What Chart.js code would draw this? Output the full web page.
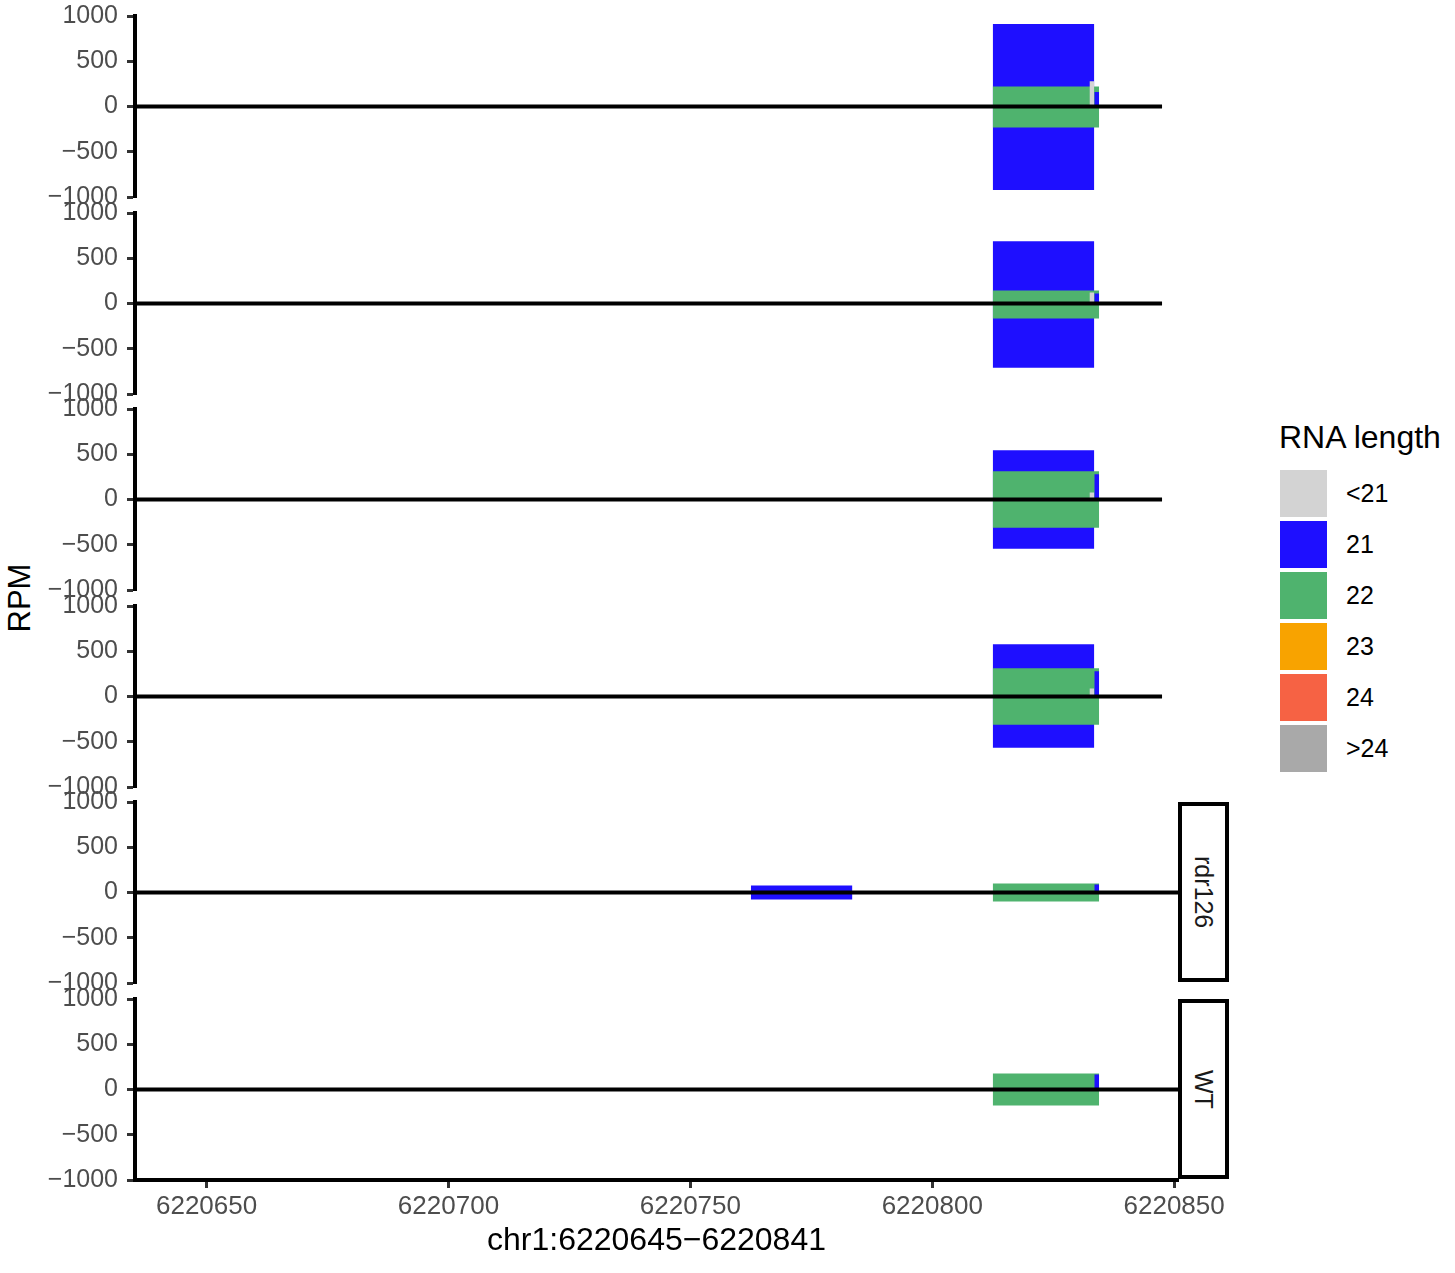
<!DOCTYPE html>
<html>
<head>
<meta charset="utf-8">
<script src="https://cdn.jsdelivr.net/npm/chart.js@4.4.1/dist/chart.umd.min.js"></script>
<style>
  html, body { margin: 0; padding: 0; background: #fff; }
  body { font-family: Arial, "Liberation Sans", sans-serif; }
  #figure { position: relative; width: 1455px; height: 1273px; overflow: hidden; background: #fff; }
  #figure canvas { position: absolute; left: 0; }
  .strip {
    position: absolute; left: 1178px; width: 43px; height: 172px;
    border: 4px solid #000; background: #fff;
    display: flex; align-items: center; justify-content: center;
    writing-mode: vertical-rl; font-size: 25px; color: #1a1a1a;
  }
  #ytitle {
    position: absolute; left: 20px; top: 598px; font-size: 31px; color: #000;
    transform: translate(-50%, -50%) rotate(-90deg); white-space: nowrap;
  }
  #legend { position: absolute; left: 1279px; top: 416px; }
  #legend .title { font-size: 32px; line-height: 42px; color: #000; white-space: nowrap; }
  #legend .item { position: absolute; left: 1px; width: 170px; height: 47px; }
  #legend .key { position: absolute; left: 0; top: 0; width: 47px; height: 47px; }
  #legend .lab { position: absolute; left: 66px; top: 0; line-height: 47px; font-size: 25px; color: #000; }
</style>
</head>
<body>
<div id="figure">
  <div id="ytitle">RPM</div>
  <div id="legend"><div class="title">RNA length</div></div>
</div>
<script>
'use strict';

// length classes and their fill colours (legend order)
const LENGTH_CLASSES = ['<21', '21', '22', '23', '24', '>24'];
const CLASS_COLORS = ['#D3D3D3', '#1E0FFF', '#4FB36E', '#F8A300', '#F66244', '#A9A9A9'];

// one row per mapped small RNA (same positions in every sample)
const READ_START = [6220813, 6220813, 6220813, 6220813, 6220833, 6220834, 6220763, 6220763];
const READ_END = [6220833, 6220833, 6220834, 6220834, 6220833, 6220834, 6220783, 6220783];
const READ_STRAND = ['+', '-', '+', '-', '+', '+', '+', '-'];
const READ_CLASS = ['21', '21', '22', '22', '<21', '21', '21', '21'];

// RPM of each read, per panel (top to bottom)
const RPM_PANEL1 = [911, 922, 222, 233, 278, 160, 0, 0];
const RPM_PANEL2 = [689, 711, 144, 167, 122, 111, 0, 0];
const RPM_PANEL3 = [544, 544, 311, 311, 78, 278, 0, 0];
const RPM_PANEL4 = [578, 567, 311, 311, 89, 278, 0, 0];
const RPM_RDR126 = [0, 0, 100, 100, 0, 89, 78, 78];
const RPM_WT = [0, 0, 178, 178, 0, 167, 0, 0];
const PANEL_RPM = [RPM_PANEL1, RPM_PANEL2, RPM_PANEL3, RPM_PANEL4, RPM_RDR126, RPM_WT];
const PANEL_LABELS = [null, null, null, null, 'rdr126', 'WT'];

// axes
const REGION_START = 6220645;
const REGION_END = 6220841;
const X_TICKS = [6220650, 6220700, 6220750, 6220800, 6220850];
const Y_TICKS = [-1000, -500, 0, 500, 1000];
const X_TITLE = 'chr1:6220645\u22126220841';

const span = REGION_END - REGION_START;
const X_MIN = REGION_START - 0.05 * span;
const X_MAX = REGION_END + 0.05 * span;
const ZERO_END_PLAIN = 6220847.5;

const FONT = 'Arial, "Liberation Sans", sans-serif';
const minus = (v) => String(v).replace('-', '\u2212');

const figure = document.getElementById('figure');

// layout of the stacked panels
const PANEL_TOP = 16;
const PANEL_H = 181;
const PANEL_STEP = 196.6;
const PAD = 32;
const CANVAS_W = 1240;
const AREA_LEFT = 135;
const AREA_RIGHT = 1178;

PANEL_RPM.forEach((rpm, i) => {
  const isBottom = i === PANEL_RPM.length - 1;
  const top = Math.round(PANEL_TOP + i * PANEL_STEP);
  const canvas = document.createElement('canvas');
  const h = isBottom ? 1273 - (top - PAD) : PANEL_H + 2 * PAD;
  canvas.width = CANVAS_W;
  canvas.height = h;
  canvas.style.top = (top - PAD) + 'px';
  canvas.style.width = CANVAS_W + 'px';
  canvas.style.height = h + 'px';
  figure.appendChild(canvas);

  const datasets = [];
  READ_CLASS.forEach((cls, r) => {
    const v = rpm[r];
    if (!v) return;
    const y = READ_STRAND[r] === '+' ? v : -v;
    datasets.push({
      data: [{ x: READ_START[r] - 0.5, y }, { x: READ_END[r] + 0.5, y }],
      backgroundColor: CLASS_COLORS[LENGTH_CLASSES.indexOf(cls)],
      borderWidth: 0,
      pointRadius: 0,
      fill: 'origin',
      order: 100 - r,
    });
  });
  // zero line
  datasets.push({
    data: [{ x: X_MIN, y: 0 }, { x: PANEL_LABELS[i] ? X_MAX : ZERO_END_PLAIN, y: 0 }],
    borderColor: '#000',
    borderWidth: 4,
    pointRadius: 0,
    fill: false,
    order: 0,
  });

  new Chart(canvas, {
    type: 'line',
    data: { datasets },
    options: {
      responsive: false,
      animation: false,
      events: [],
      layout: { padding: { top: PAD, bottom: isBottom ? 0 : PAD, left: 0, right: CANVAS_W - AREA_RIGHT } },
      plugins: { legend: { display: false }, tooltip: { enabled: false } },
      scales: {
        x: {
          type: 'linear',
          min: X_MIN,
          max: X_MAX,
          display: isBottom,
          afterBuildTicks: (s) => { s.ticks = X_TICKS.map((v) => ({ value: v })); },
          afterFit: (s) => { s.height = isBottom ? h - PAD - PANEL_H : 0; },
          border: { display: true, color: '#000', width: 4 },
          grid: { drawOnChartArea: false, tickLength: 8, tickWidth: 3, color: '#333333', tickColor: '#333333' },
          ticks: {
            color: '#4D4D4D', font: { size: 26, family: FONT }, padding: 3,
            maxRotation: 0, autoSkip: false, callback: (v) => String(v),
          },
          title: {
            display: true, text: X_TITLE, color: '#000',
            font: { size: 32, family: FONT }, padding: { top: 0, bottom: 13 },
          },
        },
        y: {
          min: -1000,
          max: 1000,
          afterBuildTicks: (s) => { s.ticks = Y_TICKS.map((v) => ({ value: v })); },
          afterFit: (s) => { s.width = AREA_LEFT; },
          border: { display: true, color: '#000', width: 4 },
          grid: { drawOnChartArea: false, tickLength: 8, tickWidth: 3, color: '#333333', tickColor: '#333333' },
          ticks: {
            color: '#4D4D4D', font: { size: 25, family: FONT }, padding: 9,
            autoSkip: false, callback: minus,
          },
        },
      },
    },
  });

  if (PANEL_LABELS[i]) {
    const strip = document.createElement('div');
    strip.className = 'strip';
    strip.style.top = top + 'px';
    strip.textContent = PANEL_LABELS[i];
    figure.appendChild(strip);
  }
});

// legend
const legend = document.getElementById('legend');
LENGTH_CLASSES.forEach((cls, k) => {
  const item = document.createElement('div');
  item.className = 'item';
  item.style.top = (54 + k * 51) + 'px';
  const key = document.createElement('div');
  key.className = 'key';
  key.style.background = CLASS_COLORS[k];
  const lab = document.createElement('div');
  lab.className = 'lab';
  lab.textContent = cls;
  item.appendChild(key);
  item.appendChild(lab);
  legend.appendChild(item);
});
</script>
</body>
</html>
